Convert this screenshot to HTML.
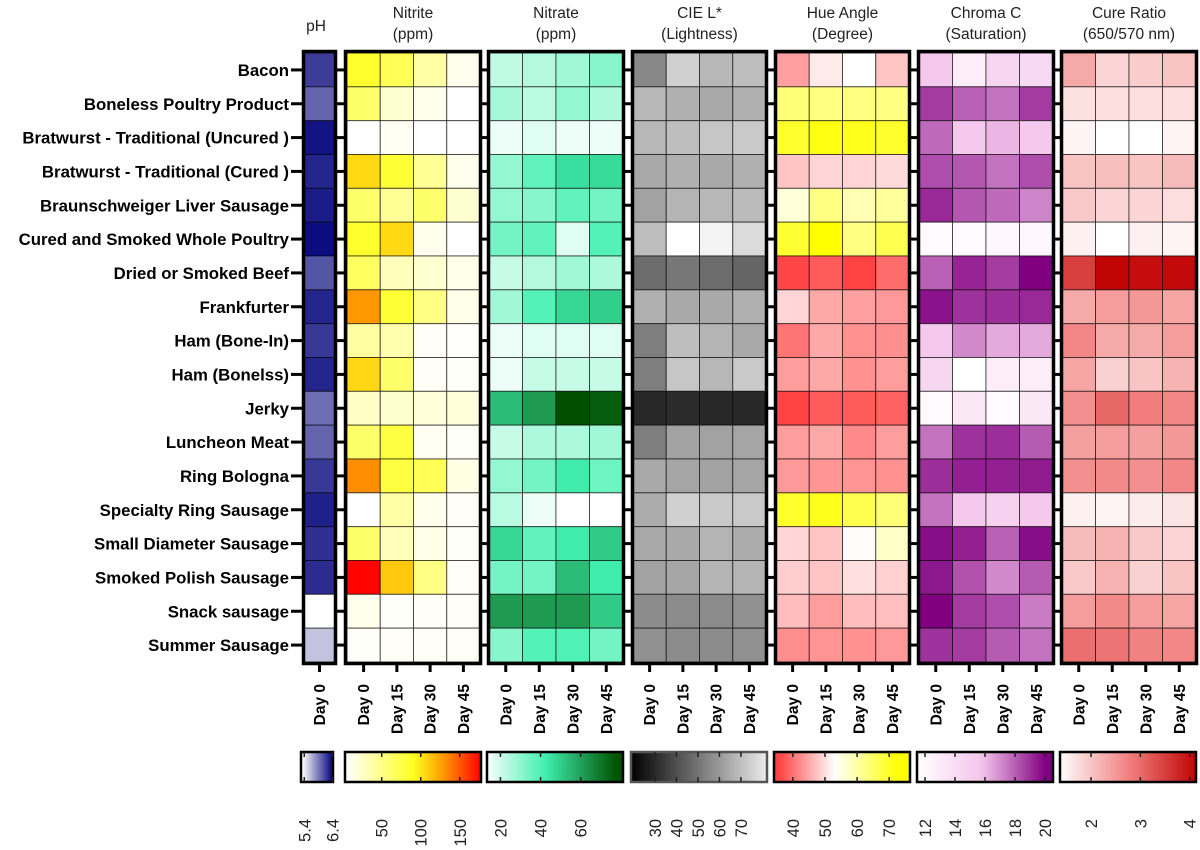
<!DOCTYPE html>
<html><head><meta charset="utf-8"><style>
html,body{margin:0;padding:0;background:#fff;}
svg{display:block;font-family:"Liberation Sans",Arial,sans-serif;}
</style></head><body>
<svg id="chart" width="1200" height="850" viewBox="0 0 1200 850" xmlns="http://www.w3.org/2000/svg"></svg>
<script>
const categories = ["Bacon","Boneless Poultry Product","Bratwurst - Traditional (Uncured )","Bratwurst - Traditional (Cured )","Braunschweiger Liver Sausage","Cured and Smoked Whole Poultry","Dried or Smoked Beef","Frankfurter","Ham (Bone-In)","Ham (Bonelss)","Jerky","Luncheon Meat","Ring Bologna","Specialty Ring Sausage","Small Diameter Sausage","Smoked Polish Sausage","Snack sausage","Summer Sausage"];
const days = ["Day 0","Day 15","Day 30","Day 45"];
const phValues = [6.18,6.0,6.37,6.29,6.33,6.4,6.07,6.29,6.2,6.29,5.96,6.0,6.2,6.31,6.24,6.26,5.3,5.57];
const nitriteValues = [[86,70,38,10],[61,21,10,3],[3,8,3,3],[105,82,45,10],[61,45,61,21],[86,105,10,3],[65,30,21,12],[130,82,52,12],[40,35,6,4],[106,61,6,5],[26,22,18,18],[61,78,8,5],[133,78,70,14],[3,38,10,6],[61,30,12,5],[178,112,52,6],[10,5,6,6],[5,6,6,6]];
const nitrateValues = [[22,24,27,31],[26,23,29,25],[15,17,15,15],[29,37,46,47],[29,31,37,34],[34,37,17,39],[21,24,27,25],[27,39,48,50],[15,17,17,17],[15,21,21,21],[54,62,79,76],[21,25,25,27],[29,34,43,35],[23,15,12,12],[48,37,43,51],[34,34,54,43],[62,62,62,51],[31,39,40,34]];
const lightValues = [[59,79,72,74],[72,70,68,70],[72,74,76,77],[68,70,68,70],[66,71,72,73],[74,92,89,82],[51,54,51,49],[70,68,68,70],[56,74,71,68],[56,76,72,77],[32,33,32,32],[56,66,66,67],[68,67,66,67],[69,79,77,77],[68,68,71,69],[66,67,71,71],[60,60,60,61],[61,60,60,61]];
const hueValues = [[44,51,53,47.5],[64,63,63,63],[70,72,71,70],[47.5,49,49,49.5],[56,63,59,61],[69.5,73.4,63,67],[35.5,37.6,35.3,39.2],[49,44.8,44,43.3],[40,44.8,42.7,42.4],[43.7,44.8,42.7,43.7],[35.3,37.6,37.6,38.3],[43.7,44.8,42,43.7],[43.3,43,43,42.7],[70,71,67,64],[49,47.5,52.6,57.5],[48.3,47.5,50,48.6],[46.8,43.7,46.8,47],[42.4,43,42.7,43.3]];
const chromaValues = [[15.4,12.8,14.5,14.3],[18.8,18,17.6,18.8],[17.8,15.4,16.1,15.4],[18.4,18.2,17.6,18.4],[19.2,18.2,17.8,17.2],[11.9,11.9,12,12],[18,19.3,18.8,20.1],[19.7,19,19.1,19.2],[15.4,17.1,16.4,16.4],[14.5,11.5,12.8,12.8],[11.9,13.2,11.9,13.2],[17.6,19,19.1,18.1],[19.1,19.4,19.4,19.5],[17.6,15.4,14.8,15.4],[19.8,19.4,18,19.8],[19.6,18.3,17.1,18.1],[20.1,18.8,18.4,17.4],[19,18.8,18.1,17.6]];
const cureValues = [[2.3,1.8,1.9,2.0],[1.67,1.7,1.7,1.7],[1.45,1.33,1.33,1.45],[2.0,2.05,2.0,2.1],[1.95,1.8,1.8,1.7],[1.5,1.33,1.5,1.45],[3.5,4.15,4.05,4.1],[2.3,2.45,2.5,2.35],[2.7,2.3,2.3,2.45],[2.35,1.85,2.0,2.2],[2.6,3.05,2.8,2.7],[2.4,2.45,2.4,2.5],[2.6,2.65,2.6,2.7],[1.5,1.45,1.55,1.65],[2.1,2.2,1.95,1.8],[1.95,2.2,1.85,2.0],[2.45,2.65,2.45,2.35],[2.95,2.9,2.75,2.7]];
const phTicks = ["5.4","6.4"];
const nitriteTicks = ["50","100","150"];
const nitrateTicks = ["20","40","60"];
const lightTicks = ["30","40","50","60","70"];
const hueTicks = ["40","50","60","70"];
const chromaTicks = ["12","14","16","18","20"];
const cureTicks = ["2","3","4"];

const NS="http://www.w3.org/2000/svg";
const svg=document.getElementById('chart');
function mk(tag,attrs,parent){const e=document.createElementNS(NS,tag);for(const k in attrs)e.setAttribute(k,attrs[k]);(parent||svg).appendChild(e);return e;}
function hex(c){return [parseInt(c.slice(1,3),16),parseInt(c.slice(3,5),16),parseInt(c.slice(5,7),16)];}
function cmap(stops){return function(t){t=Math.max(0,Math.min(1,t));for(let i=1;i<stops.length;i++){if(t<=stops[i][0]){const a=stops[i-1],b=stops[i];const f=(t-a[0])/(b[0]-a[0]||1);const ca=hex(a[1]),cb=hex(b[1]);return 'rgb('+ca.map((v,j)=>Math.round(v+(cb[j]-v)*f)).join(',')+')';}}return stops[stops.length-1][1];};}

const panels=[
 {name:'ph',title:['pH'],vals:phValues.map(v=>[v]),min:5.3,max:6.4,stops:[[0,'#ffffff'],[1,'#0c0c80']],x:304,w:31,box:[302,337],cb:[300,334],ticks:phTicks,tpos:[5.4,6.4],tmin:5.25,tmax:6.45,hx:316},
 {name:'nitrite',title:['Nitrite','(ppm)'],vals:nitriteValues,min:3,max:179,stops:[[0,'#ffffff'],[0.5,'#ffff20'],[0.72,'#ff9900'],[1,'#ff0000']],x:347,w:133,box:[344,482],cb:[344,482],ticks:nitriteTicks,tpos:[50,100,150],tmin:1.7,tmax:178.5},
 {name:'nitrate',title:['Nitrate','(ppm)'],vals:nitrateValues,min:12,max:79,stops:[[0,'#ffffff'],[0.45,'#40f0b0'],[1,'#005000']],x:489,w:134,box:[487,625],cb:[486,624],ticks:nitrateTicks,tpos:[20,40,60],tmin:12.8,tmax:81.6},
 {name:'lightness',title:['CIE L*','(Lightness)'],vals:lightValues,min:21,max:92,stops:[[0,'#000000'],[1,'#ffffff']],x:633,w:133,box:[631,768],cb:[630,768],ticks:lightTicks,tpos:[30,40,50,60,70],tmin:18.4,tmax:82.6,cbStops:[[0,'#000000'],[1,'#ececec']]},
 {name:'hue',title:['Hue Angle','(Degree)'],vals:hueValues,min:34.7,max:73.4,stops:[[0,'#ff3c3c'],[0.473,'#ffffff'],[1,'#ffff00']],x:776,w:133,box:[774,911],cb:[773,911],ticks:hueTicks,tpos:[40,50,60,70],tmin:33.8,tmax:76.8},
 {name:'chroma',title:['Chroma C','(Saturation)'],vals:chromaValues,min:11.5,max:20.1,stops:[[0,'#ffffff'],[0.5,'#f4c4ec'],[1,'#800080']],x:919,w:134,box:[917,1055],cb:[916,1054],ticks:chromaTicks,tpos:[12,14,16,18,20],tmin:11.4,tmax:20.6},
 {name:'cure-ratio',title:['Cure Ratio','(650/570 nm)'],vals:cureValues,min:1.33,max:4.2,stops:[[0,'#ffffff'],[0.5,'#f28080'],[1,'#c00000']],x:1062,w:134,box:[1060,1198],cb:[1059,1197],ticks:cureTicks,tpos:[2,3,4],tmin:1.35,tmax:4.15}
];
const Y0=53,Y1=662,nR=categories.length,rh=(Y1-Y0)/nR;
function yRow(i){return Y0+i*rh;}
const defs=mk('defs',{});

categories.forEach((c,i)=>{
 const cy=yRow(i)+rh/2;
 const t=mk('text',{x:289,y:cy+6,'text-anchor':'end','font-size':'16.8','font-weight':'bold',fill:'#000'});
 t.textContent=c;
 
 
 const tk=mk('line',{x1:291,x2:303,y1:cy,y2:cy,stroke:'#000','stroke-width':3});
 
 
});

panels.forEach((p,pi)=>{
 const g=mk('g',{});
 
 
 const col=cmap(p.stops);
 const nC=p.vals[0].length,cw=p.w/nC;
 const hx=p.hx||(p.box[0]+p.box[1])/2;
 p.title.forEach((s,k)=>{
  const t=mk('text',{x:hx,y:p.title.length===1?31:(18+k*21),'text-anchor':'middle','font-size':'15.5',fill:'#222'},g);
  t.textContent=s;
  
  
 });
 p.vals.forEach((row,i)=>{row.forEach((v,j)=>{
  const r=mk('rect',{x:p.x+j*cw,y:yRow(i),width:cw,height:rh,fill:col((v-p.min)/(p.max-p.min)),stroke:'rgba(0,0,0,0.6)','stroke-width':1},g);
  
  
 });});
 const b=mk('rect',{x:p.box[0]+1.5,y:Y0-1.5,width:p.box[1]-p.box[0]-3,height:Y1-Y0+3,fill:'none',stroke:'#000','stroke-width':3.5},g);
 
 
 if(pi<panels.length-1){
  const nx=panels[pi+1].box[0];
  categories.forEach((c,i)=>{
   const cy=yRow(i)+rh/2;
   const tk=mk('line',{x1:p.box[1]-1,x2:nx+1,y1:cy,y2:cy,stroke:'#000','stroke-width':3},g);
   
   
  });
 }
 for(let j=0;j<nC;j++){
  const cx=p.x+(j+0.5)*cw;
  const tk=mk('line',{x1:cx,x2:cx,y1:Y1,y2:Y1+10,stroke:'#000','stroke-width':3},g);
  
  
  const t=mk('text',{x:0,y:0,'text-anchor':'end','font-size':'15.5','font-weight':'bold',fill:'#000',transform:`translate(${cx+5.5},${684}) rotate(-90)`},g);
  t.textContent=days[j];
  
  
 }
 const gid='grad'+pi;
 const lg=mk('linearGradient',{id:gid,x1:0,x2:1,y1:0,y2:0},defs);
 const cs=p.cbStops||null;
 const cbx0=p.cb[0],cbx1=p.cb[1];
 for(let k=0;k<=20;k++){
  const f=k/20;
  let c;
  if(cs){c=cmap(cs)(f);}else{const v=p.tmin+(p.tmax-p.tmin)*f;c=col((v-p.min)/(p.max-p.min));}
  mk('stop',{offset:f,'stop-color':c},lg);
 }
 const cb=mk('rect',{x:cbx0+1,y:752,width:cbx1-cbx0-2,height:30,fill:`url(#${gid})`,stroke:pi===3?'#555':'#000','stroke-width':2.5},g);
 
 
 p.tpos.forEach((tv,k)=>{
  const tx=cbx0+(tv-p.tmin)/(p.tmax-p.tmin)*(cbx1-cbx0);
  mk('line',{x1:tx,x2:tx,y1:752,y2:757,stroke:'#222','stroke-width':1.5},g);
  mk('line',{x1:tx,x2:tx,y1:777,y2:782,stroke:'#222','stroke-width':1.5},g);
  const t=mk('text',{x:0,y:0,'text-anchor':'end','font-size':'16.5',fill:'#222',transform:`translate(${tx+6},${819}) rotate(-90)`},g);
  t.textContent=p.ticks[k];
  
  
 });
});
</script>
</body></html>
